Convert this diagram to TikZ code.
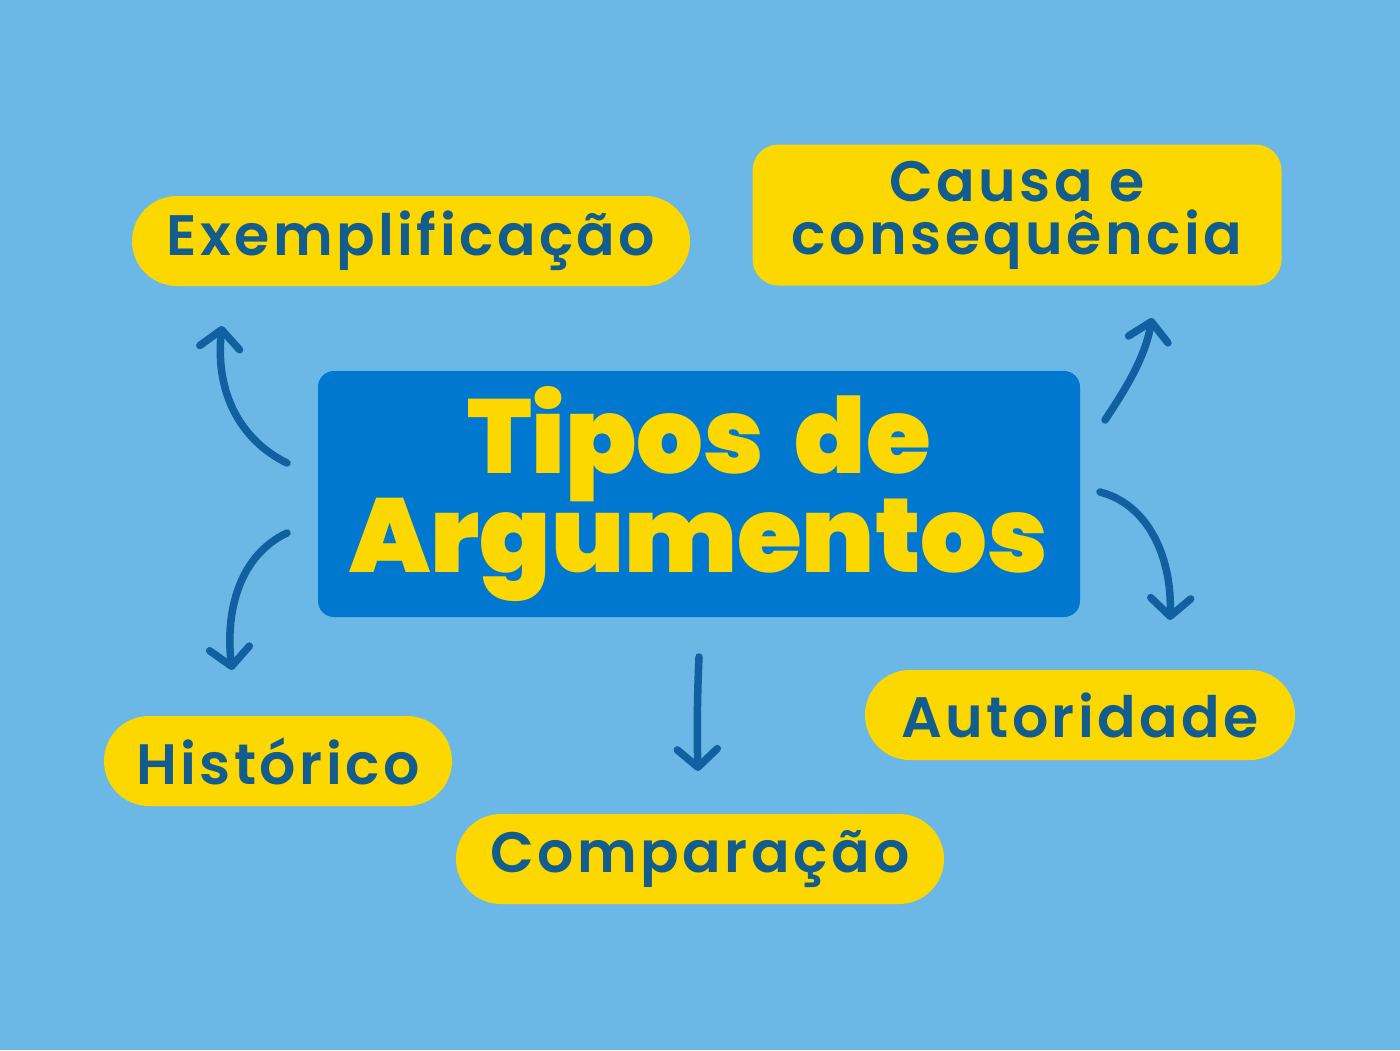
\documentclass[tikz,border=0pt]{standalone}
\usepackage{fontspec}
\setmainfont{Poppins}
\newfontfamily\labelfont{Poppins SemiBold}[LetterSpace=6]
\newfontfamily\titlefont{Poppins Black}
\usetikzlibrary{arrows.meta}
\definecolor{bg}{HTML}{6BB8E6}
\definecolor{yel}{HTML}{FCD800}
\definecolor{txt}{HTML}{135D8E}
\definecolor{mainbox}{HTML}{0078CF}
\definecolor{arr}{HTML}{1160A0}
\tikzset{
  pill/.style={fill=yel, text=txt, rounded corners=45pt, minimum height=90pt, inner sep=0pt,
    font={\labelfont\fontsize{57}{53}\selectfont\lineskiplimit=-200pt}},
  hand/.style={draw=arr, line width=7.5pt, line cap=round, line join=round,
    -{Straight Barb[length=18pt,width=40pt,line cap=round,line join=round]}},
}
\begin{document}
\begin{tikzpicture}[x=1pt,y=-1pt]
\fill[bg] (0,0) rectangle (1400,1050);
\useasboundingbox (0,0) rectangle (1400,1050);

\node[fill=mainbox, text=yel, rounded corners=16pt, minimum width=762pt, minimum height=246pt,
  inner sep=0pt, align=center, font={\titlefont\fontsize{105}{99}\selectfont\lineskiplimit=-200pt}] (title) at (699,494)
  {Tipos\hspace{0.12em} de\\Argumentos};

\node[pill, minimum width=558pt] (ex) at (411,241) {Exemplificação};
\node[pill, rounded corners=26pt, minimum width=529pt, minimum height=141pt, align=center] (ca) at (1017,215)
  {Causa e\\consequência};
\node[pill, minimum width=348pt] (hi) at (278,761) {Histórico};
\node[pill, minimum width=488pt] (co) at (700,859) {Comparação};
\node[pill, minimum width=430pt] (au) at (1080,715) {Autoridade};

\coordinate (a1s) at (287,463); \coordinate (a1e) at (222,326);
\coordinate (a2s) at (287,533); \coordinate (a2e) at (232,670);
\coordinate (a3s) at (1105,420); \coordinate (a3e) at (1152,318);
\coordinate (a4s) at (1100,492); \coordinate (a4e) at (1170,620);
\coordinate (a5s) at (699,657); \coordinate (a5e) at (698,771);

\draw[hand] (a1s) .. controls (240,440) and (215,392) .. (a1e);
\draw[hand] (a2s) .. controls (240,555) and (225,610) .. (a2e);
\draw[hand] (a3s) .. controls (1125,390) and (1145,358) .. (a3e);
\draw[hand] (a4s) .. controls (1150,505) and (1172,560) .. (a4e);
\draw[hand] (a5s) .. controls (697,700) and (697,740) .. (a5e);
\end{tikzpicture}
\end{document}
